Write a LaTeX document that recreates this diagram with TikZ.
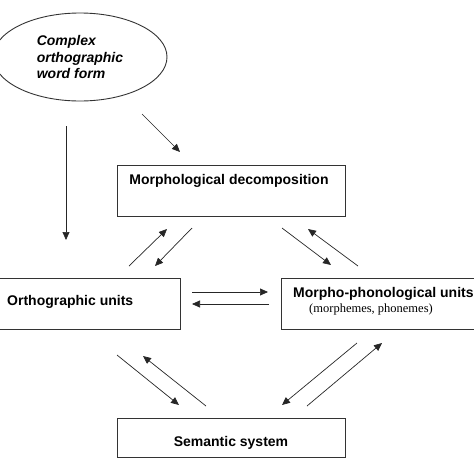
\documentclass[tikz,border=0pt]{standalone}
\usepackage{fontspec}
\setmainfont{Liberation Serif}
\setsansfont{Liberation Sans}
\usetikzlibrary{arrows.meta,shapes.geometric}
\tikzset{
  box/.style={draw=black!80, line width=0.9pt, rectangle, inner sep=0pt},
  lbl/.style={font=\fontsize{14}{16.5}\selectfont\sffamily\bfseries, inner sep=0pt},
  arr/.style={-{Triangle[length=8pt,width=7pt]}, line width=0.7pt, draw=black!85},
}
\begin{document}
\begin{tikzpicture}[x=1pt,y=-1pt]
  \useasboundingbox (0,0) rectangle (474,474);
  % word form
  \node[ellipse, draw=black!80, line width=0.9pt, minimum width=174pt, minimum height=88pt,
        inner sep=0pt, align=left, font=\fontsize{14}{16.5}\selectfont\sffamily\bfseries\itshape]
        (word) at (80,57) {Complex\\orthographic\\word form};
  % boxes
  \node[box, minimum width=228pt, minimum height=51pt] (decomp) at (231,190.5) {};
  \node[box, minimum width=200pt, minimum height=51pt] (ortho) at (80,303.5) {};
  \node[box, minimum width=210pt, minimum height=51pt] (morpho) at (386,303.5) {};
  \node[box, minimum width=228pt, minimum height=39pt] (sem) at (231,437.5) {};
  % texts
  \node[lbl, anchor=base] (decomptext) at (229,184) {Morphological decomposition};
  \node[lbl, anchor=base west] (orthotext) at (7,305) {Orthographic units};
  \node[lbl, anchor=base west] (morphotext) at (293,297) {Morpho-phonological units};
  \node[inner sep=0pt, anchor=base west, font=\fontsize{12.5}{15}\selectfont] (morphosub) at (309,312) {(morphemes, phonemes)};
  \node[lbl, anchor=base] (semtext) at (231,446) {Semantic system};
  % arrow ends
  \path
    (142,114) coordinate (w1) (180,152) coordinate (w2)
    (66,126) coordinate (v1) (66,240) coordinate (v2)
    (129,266) coordinate (od1) (167,229) coordinate (od2)
    (192,228) coordinate (do1) (155,266) coordinate (do2)
    (282,228) coordinate (dm1) (331,265) coordinate (dm2)
    (358,266) coordinate (md1) (308,229) coordinate (md2)
    (192,292) coordinate (om1) (268,292) coordinate (om2)
    (269,304) coordinate (mo1) (192,304) coordinate (mo2)
    (117,355) coordinate (os1) (179,405) coordinate (os2)
    (206,406) coordinate (so1) (143,356) coordinate (so2)
    (357,343) coordinate (ms1) (282,405) coordinate (ms2)
    (307,406) coordinate (sm1) (382,343) coordinate (sm2);
  \begin{scope}[arr]
    \draw (w1) to (w2);
    \draw (v1) to (v2);
    \draw (od1) to (od2);
    \draw (do1) to (do2);
    \draw (dm1) to (dm2);
    \draw (md1) to (md2);
    \draw (om1) to (om2);
    \draw (mo1) to (mo2);
    \draw (os1) to (os2);
    \draw (so1) to (so2);
    \draw (ms1) to (ms2);
    \draw (sm1) to (sm2);
  \end{scope}
\end{tikzpicture}
\end{document}
